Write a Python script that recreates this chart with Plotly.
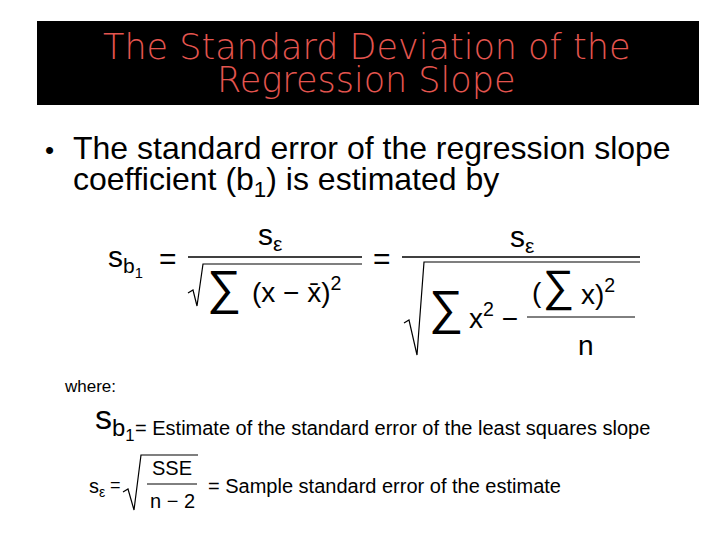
import plotly.graph_objects as go

# slide texts
title_lines = ["The Standard Deviation of the", "Regression Slope"]
bullet_lines = ["The standard error of the regression slope",
                "coefficient (b<sub>1</sub>) is estimated by"]
where_label = "where:"
def_sb1 = "= Estimate of the standard error of the least squares slope"
def_se = "= Sample standard error of the estimate"

TITLE_RED = "#e4554f"
SANS = "Liberation Sans, Arial, sans-serif"

fig = go.Figure()
ann = []
shapes = []


def txt(x, y, s, size, anchor="left", color="black", family=SANS, weight=None):
    f = dict(size=size, color=color, family=family)
    if weight:
        f["weight"] = weight
    ann.append(dict(x=x, y=y, xref="x", yref="y", text=s, showarrow=False,
                    xanchor=anchor, yanchor="middle", font=f))


def hline(x0, x1, y, w=1.5):
    shapes.append(dict(type="line", xref="x", yref="y", x0=x0, x1=x1, y0=y, y1=y,
                       line=dict(color="black", width=w)))


def radical(x0, ymid, xbot, ybot, xtop, ytop, xend, w=1.2):
    # small tick, down stroke, steep rise, then overbar
    path = (f"M{x0},{ymid + 3} L{x0 + 5},{ymid} L{xbot},{ybot} "
            f"L{xtop},{ytop} L{xend},{ytop}")
    shapes.append(dict(type="path", xref="x", yref="y", path=path,
                       line=dict(color="black", width=w)))


# header box
shapes.append(dict(type="rect", xref="x", yref="y", x0=37, x1=699, y0=21, y1=105,
                   fillcolor="black", line=dict(width=0), layer="below"))
txt(366, 47, title_lines[0], 35, "center", TITLE_RED, "DejaVu Sans", 200)
txt(366, 80, title_lines[1], 35, "center", TITLE_RED, "DejaVu Sans", 200)

# bullet
txt(49, 150, "•", 26, "center")
txt(71, 148, bullet_lines[0], 32)
txt(71, 181, bullet_lines[1], 32)

# main formula
txt(106, 260, "s<sub>b<sub>1</sub></sub>", 30)
txt(168, 258, "=", 30, "center")
hline(188, 362, 257)
txt(270, 236, "s<sub>ε</sub>", 30, "center")
radical(188, 290, 197, 306, 203, 264, 362)
txt(205, 288, "∑", 48)
txt(250, 290, "(x − x̄)<sup>2</sup>", 28)
txt(382, 258, "=", 30, "center")
hline(402, 640, 257)
txt(522, 238, "s<sub>ε</sub>", 30, "center")
radical(404, 320, 417, 355, 424, 262, 640)
txt(427, 308, "∑", 48)
txt(467, 316, "x<sup>2</sup> −", 28)
txt(530, 292, "(", 28)
txt(541, 286, "∑", 44)
txt(579, 292, "x)<sup>2</sup>", 28)
hline(527, 635, 317, 1)
txt(586, 345, "n", 28, "center")

# definitions
txt(62, 386, where_label, 17)
txt(93, 421, "s<sub>b<sub>1</sub></sub>", 34)
txt(133, 428, def_sb1, 20)
txt(87, 487, "s<sub>ε</sub>", 20)
txt(115, 485, "=", 18, "center")
radical(123, 489, 134, 510, 141, 455, 198)
txt(172, 468, "SSE", 20, "center")
hline(147, 197, 484, 1)
txt(172, 501, "n − 2", 20, "center")
txt(206, 486, def_se, 20)

fig.update_layout(
    width=728, height=546,
    margin=dict(l=0, r=0, t=0, b=0),
    paper_bgcolor="white", plot_bgcolor="white",
    # page body keeps its 8px margin, so the ranges are shifted by 8px
    xaxis=dict(range=[8, 736], visible=False, fixedrange=True),
    yaxis=dict(range=[554, 8], visible=False, fixedrange=True),
    annotations=ann, shapes=shapes, showlegend=False,
)

fig.write_html("out.html")
